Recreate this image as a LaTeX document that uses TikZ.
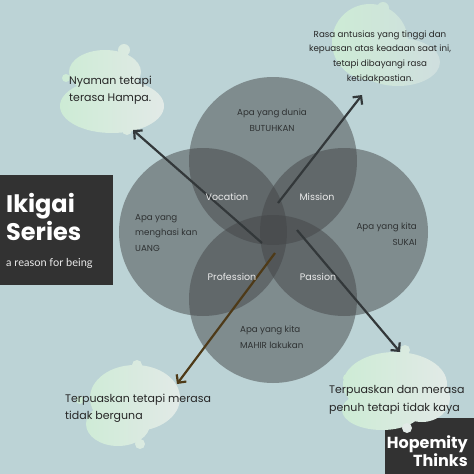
\documentclass[tikz,border=0pt]{standalone}
\usepackage{fontspec}
\setmainfont{Poppins}
\newfontfamily\latofont{Lato}
\usetikzlibrary{positioning, calc, arrows.meta}
\definecolor{bgblue}{HTML}{BCD3D6}
\definecolor{ringgray}{HTML}{444648}
\definecolor{boxdark}{HTML}{323232}
\definecolor{mintleft}{HTML}{CDEBD5}
\definecolor{mintright}{HTML}{E2EAE7}
\definecolor{arrowdark}{HTML}{33383A}
\definecolor{arrowbrown}{HTML}{4E3A18}
\definecolor{labeldark}{HTML}{2E3132}

\begin{document}
\begin{tikzpicture}[x=1pt, y=-1pt]
    % Stili
    \tikzset{
        ring/.style={
            circle,
            fill=ringgray,
            fill opacity=0.5, % Cerchi trasparenti
            minimum size=168pt,
            inner sep=0pt
        },
        ring_name/.style={
            text=white!92!black,
            font=\fontsize{9.5}{10}\selectfont,
            inner sep=0pt
        },
        ring_text/.style={
            text=labeldark,
            font=\fontsize{8.7}{15.5}\selectfont,
            inner sep=0pt
        },
        blob/.style={
            left color=mintleft,
            right color=mintright
        },
        blob_text/.style={
            text=black!85,
            font=\fontsize{11}{17.5}\selectfont,
            align=left,
            inner sep=0pt
        },
        pointer/.style={
            ->,
            >={Straight Barb[length=6pt, width=12pt]},
            line width=2.2pt,
            draw=arrowdark
        },
        title_text/.style={
            text=white,
            font=\bfseries\fontsize{24}{24}\selectfont,
            inner sep=0pt
        }
    }

    \useasboundingbox (0,0) rectangle (474,474);
    \fill[bgblue] (0,0) rectangle (474,474);

    % Nuvole
    \path[blob] (105,72) ellipse [x radius=36, y radius=22]
        (112,106) ellipse [x radius=52, y radius=27]
        (124,50) circle [radius=6] (127,130) circle [radius=5] (66,78) circle [radius=4];
    \path[left color=mintleft, right color=bgblue!50!mintright] (370,42) ellipse [x radius=38, y radius=38]
        (398,62) ellipse [x radius=42, y radius=24]
        (383,8) circle [radius=6];
    \path[blob] (135,398) ellipse [x radius=45, y radius=33]
        (118,424) ellipse [x radius=32, y radius=22]
        (137,365) circle [radius=5] (140,444) circle [radius=5] (80,400) circle [radius=4];

    % Riquadri scuri
    \fill[boxdark] (0,175) rectangle (113,285);
    \fill[boxdark] (385,418) rectangle (474,474);

    \path[blob] (395,384) ellipse [x radius=52, y radius=32]
        (382,410) ellipse [x radius=40, y radius=20]
        (422,398) ellipse [x radius=28, y radius=24]
        (405,350) circle [radius=5] (347,378) circle [radius=4];
    \fill[mintright] (407,428) circle [radius=5];

    % Cerchi
    \node[ring] (world) at (273,161) {};
    \node[ring] (money) at (203,232) {};
    \node[ring] (love) at (344,232) {};
    \node[ring] (skill) at (273,299) {};

    % Frecce
    \coordinate (hub_nw) at (262,243);
    \coordinate (tip_nw) at (133,130);
    \coordinate (hub_ne) at (278,203);
    \coordinate (tip_ne) at (362,95);
    \coordinate (hub_se) at (297,230);
    \coordinate (tip_se) at (400,352);
    \coordinate (hub_sw) at (275,253);
    \coordinate (tip_sw) at (177,384);

    \draw[pointer] (hub_nw) -- (tip_nw);
    \draw[pointer] (hub_ne) -- (tip_ne);
    \draw[pointer] (hub_se) -- (tip_se);
    \draw[pointer, draw=arrowbrown] (hub_sw) -- (tip_sw);

    % Etichette dei cerchi
    \node[ring_text, align=center] (world_text) at (272,120) {Apa yang dunia\\BUTUHKAN};
    \node[ring_text, align=left, anchor=west] (money_text) at (135,233) {Apa yang\\menghasi kan\\UANG};
    \node[ring_text, align=right, anchor=east] (love_text) at (417,234) {Apa yang kita\\SUKAI};
    \node[ring_text, align=left, anchor=west] (skill_text) at (240,337) {Apa yang kita\\MAHIR lakukan};

    \node[ring_name] (vocation) at (227,197) {Vocation};
    \node[ring_name] (mission) at (317,197) {Mission};
    \node[ring_name] (profession) at (232,277) {Profession};
    \node[ring_name] (passion) at (318,277) {Passion};

    % Testi nelle nuvole
    \node[blob_text, anchor=west] (empty_text) at (69,90) {Nyaman tetapi\\terasa Hampa.};
    \node[blob_text, align=center, font=\fontsize{8.7}{14.7}\selectfont] (doubt_text) at (380,57)
        {Rasa antusias yang tinggi dan\\kepuasan atas keadaan saat ini,\\tetapi dibayangi rasa\\ketidakpastian.};
    \node[blob_text, anchor=west] (useless_text) at (65,408.5) {Terpuaskan tetapi merasa\\tidak berguna};
    \node[blob_text, anchor=west] (poor_text) at (329,400) {Terpuaskan dan merasa\\penuh tetapi tidak kaya};

    % Titoli
    \node[title_text, anchor=base west] (ikigai) at (6,212) {Ikigai};
    \node[title_text, anchor=base west] (series) at (6,240) {Series};
    \node[text=white!92!black, font=\latofont\fontsize{11}{12}\selectfont, inner sep=0pt, anchor=base west] (reason) at (6,266) {a reason for being};
    \node[title_text, font=\bfseries\fontsize{16}{16}\selectfont, anchor=base east] (hopemity) at (468,448) {Hopemity};
    \node[title_text, font=\bfseries\fontsize{16}{16}\selectfont, anchor=base east] (thinks) at (468,466) {Thinks};
\end{tikzpicture}
\end{document}
